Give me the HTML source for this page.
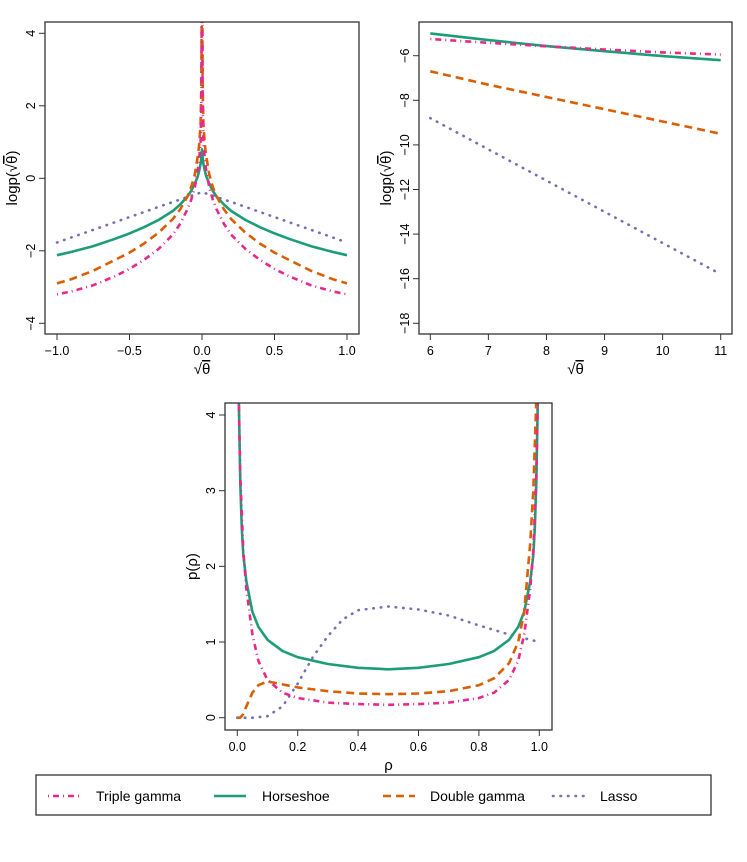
<!DOCTYPE html>
<html><head><meta charset="utf-8"><style>
html,body{margin:0;padding:0;background:#fff;}
svg{display:block;font-family:"Liberation Sans",sans-serif;}
</style></head><body>
<svg id="s" width="747" height="862" viewBox="0 0 747 862" xmlns="http://www.w3.org/2000/svg"></svg>
<script>
// ---- Panel A data (log density near zero; right half, mirrored for symmetric prior) ----
const aX = [0,0.002,0.005,0.01,0.02,0.03,0.05,0.075,0.1,0.15,0.2,0.3,0.4,0.5,0.6,0.75,0.9,1];
const aTriple = [4.6,4.5,2.0,1.0,0.5,0.2,-0.25,-0.6,-0.85,-1.25,-1.55,-1.95,-2.25,-2.5,-2.7,-2.95,-3.12,-3.2];
const aHorse = [0.8,0.72,0.55,0.4,0.2,0.05,-0.15,-0.35,-0.5,-0.72,-0.9,-1.15,-1.35,-1.52,-1.67,-1.87,-2.03,-2.12];
const aDouble = [4.6,4.5,2.5,1.5,0.9,0.6,0.1,-0.25,-0.5,-0.85,-1.12,-1.5,-1.8,-2.05,-2.25,-2.55,-2.78,-2.9];
const aLassoX = [0,0.25,0.5,0.75,1];
const aLasso = [-0.38,-0.72,-1.07,-1.42,-1.77];
const aXTicks = [-1,-0.5,0,0.5,1], aXLabels = ["−1.0","−0.5","0.0","0.5","1.0"];
const aYTicks = [-4,-2,0,2,4], aYLabels = ["−4","−2","0","2","4"];
// ---- Panel B data (tails) ----
const bX = [6,7,8,9,10,11];
const bTriple = [-5.25,-5.42,-5.58,-5.72,-5.85,-5.95];
const bHorse = [-5.0,-5.3,-5.57,-5.8,-6.02,-6.2];
const bDouble = [-6.7,-7.3,-7.85,-8.4,-8.95,-9.5];
const bLasso = [-8.8,-10.2,-11.6,-13.0,-14.4,-15.8];
const bXTicks = [6,7,8,9,10,11], bXLabels = ["6","7","8","9","10","11"];
const bYTicks = [-18,-16,-14,-12,-10,-8,-6], bYLabels = ["−18","−16","−14","−12","−10","−8","−6"];
// ---- Panel C data (shrinkage profile) ----
const cTX = [0.005,0.01,0.02,0.03,0.05,0.07,0.1,0.15,0.2,0.3,0.4,0.5,0.6,0.7,0.8,0.85,0.9,0.93,0.95,0.97,0.98,0.99,0.995];
const cTriple = [4.2,3.2,2.2,1.7,1.1,0.75,0.5,0.33,0.26,0.2,0.18,0.17,0.18,0.2,0.26,0.33,0.5,0.75,1.1,1.7,2.2,3.2,4.2];
const cHX = [0.005,0.01,0.015,0.02,0.03,0.05,0.07,0.1,0.15,0.2,0.3,0.4,0.5,0.6,0.7,0.8,0.85,0.9,0.93,0.95,0.97,0.98,0.985,0.99,0.995];
const cHorse = [4.2,3.1,2.5,2.15,1.8,1.4,1.2,1.03,0.88,0.8,0.71,0.66,0.64,0.66,0.71,0.8,0.88,1.03,1.2,1.4,1.8,2.15,2.5,3.1,4.2];
const cDX = [0,0.01,0.02,0.03,0.05,0.07,0.1,0.15,0.2,0.3,0.4,0.5,0.6,0.7,0.8,0.85,0.9,0.93,0.95,0.97,0.98,0.99];
const cDouble = [0,0,0.05,0.15,0.33,0.43,0.48,0.44,0.4,0.35,0.32,0.31,0.32,0.35,0.43,0.52,0.72,1.0,1.4,2.3,3.0,4.2];
const cLX = [0,0.05,0.1,0.15,0.2,0.25,0.3,0.35,0.4,0.5,0.6,0.7,0.8,0.9,1.0];
const cLasso = [0,0,0.02,0.15,0.45,0.8,1.08,1.3,1.42,1.47,1.43,1.35,1.22,1.1,1.0];
const cXTicks = [0,0.2,0.4,0.6,0.8,1], cXLabels = ["0.0","0.2","0.4","0.6","0.8","1.0"];
const cYTicks = [0,1,2,3,4], cYLabels = ["0","1","2","3","4"];

function mirror(xs,ys){const X=[],Y=[];for(let i=xs.length-1;i>0;i--){X.push(-xs[i]);Y.push(ys[i]);}for(let i=0;i<xs.length;i++){X.push(xs[i]);Y.push(ys[i]);}return {x:X,y:Y};}
const NS="http://www.w3.org/2000/svg", S=document.getElementById('s');
const COL={t:"#E7298A",h:"#1B9E77",d:"#D95F02",l:"#7570B3"};
const DASH={t:"1 4 6 4",h:"",d:"8 5",l:"0.5 7"};
function mk(tag,at,par){const e=document.createElementNS(NS,tag);for(const k in at)e.setAttribute(k,at[k]);(par||S).appendChild(e);return e;}
function panel(name,box,xd,yd,xT,xL,yT,yL,xt,yt,series){
  const g=mk('g',{});
  
  
  const sx=v=>xd.p0+(v-xd.v0)*(xd.p1-xd.p0)/(xd.v1-xd.v0);
  const sy=v=>yd.p0+(v-yd.v0)*(yd.p1-yd.p0)/(yd.v1-yd.v0);
  const cid='c'+name;
  const cp=mk('clipPath',{id:cid},g);mk('rect',{x:box.x0,y:box.y0,width:box.x1-box.x0,height:box.y1-box.y0},cp);
  series.forEach(s=>{
    const d=s.x.map((v,i)=>(i?'L':'M')+sx(v).toFixed(1)+' '+sy(s.y[i]).toFixed(1)).join(' ');
    const p=mk('path',{d:d,fill:'none',stroke:COL[s.k],'stroke-width':2.6,'stroke-dasharray':DASH[s.k],'stroke-linecap':s.k=='l'?'round':'butt','stroke-linejoin':'round','clip-path':'url(#'+cid+')'},g);
    
    
  });
  const r=mk('rect',{x:box.x0,y:box.y0,width:box.x1-box.x0,height:box.y1-box.y0,fill:'none',stroke:'#333','stroke-width':1.3},g);
  
  
  const xa=mk('g',{},g);
  
  
  mk('line',{x1:sx(xT[0]),x2:sx(xT[xT.length-1]),y1:box.y1,y2:box.y1,stroke:'#333'},xa);
  xT.forEach((v,i)=>{mk('line',{x1:sx(v),x2:sx(v),y1:box.y1,y2:box.y1+6,stroke:'#333'},xa);
    const t=mk('text',{x:sx(v),y:box.y1+21,'text-anchor':'middle','font-size':12.5},xa);t.textContent=xL[i];});
  const ya=mk('g',{},g);
  
  
  yT.forEach((v,i)=>{mk('line',{x1:box.x0,x2:box.x0-6,y1:sy(v),y2:sy(v),stroke:'#333'},ya);
    const t=mk('text',{x:box.x0-10,y:sy(v),'text-anchor':'middle','font-size':12.5,transform:'rotate(-90 '+(box.x0-10)+' '+sy(v)+')'},ya);t.textContent=yL[i];});
  const tx=mk('text',{x:(box.x0+box.x1)/2,y:box.y1+40,'text-anchor':'middle','font-size':15},g);tx.innerHTML=xt;
  
  
  const yy=(box.y0+box.y1)/2, xx=box.x0-28;
  const ty=mk('text',{x:xx,y:yy,'text-anchor':'middle','font-size':15,transform:'rotate(-90 '+xx+' '+yy+')'},g);ty.innerHTML=yt;
  
  
}
const sq='√<tspan text-decoration="overline">θ</tspan>';
const mL=mirror(aLassoX,aLasso), mH=mirror(aX,aHorse), mD=mirror(aX,aDouble), mT=mirror(aX,aTriple);
panel('panel-log-density-center',{x0:45,x1:359,y0:22,y1:334},{v0:-1,v1:1,p0:57,p1:347},{v0:0,v1:4,p0:178.3,p1:33.3},
  aXTicks,aXLabels,aYTicks,aYLabels,sq,'logp('+sq+')',
  [{k:'l',n:'lasso-line',x:mL.x,y:mL.y},{k:'h',n:'horseshoe-line',x:mH.x,y:mH.y},{k:'d',n:'double-gamma-line',x:mD.x,y:mD.y},{k:'t',n:'triple-gamma-line',x:mT.x,y:mT.y}]);
panel('panel-log-density-tail',{x0:419,x1:732,y0:22,y1:334},{v0:6,v1:11,p0:430.3,p1:720.7},{v0:-6,v1:-18,p0:55.7,p1:323.3},
  bXTicks,bXLabels,bYTicks,bYLabels,sq,'logp('+sq+')',
  [{k:'l',n:'lasso-line',x:bX,y:bLasso},{k:'d',n:'double-gamma-line',x:bX,y:bDouble},{k:'h',n:'horseshoe-line',x:bX,y:bHorse},{k:'t',n:'triple-gamma-line',x:bX,y:bTriple}]);
panel('panel-shrinkage-profile',{x0:225,x1:552,y0:403,y1:730},{v0:0,v1:1,p0:237.3,p1:539.3},{v0:0,v1:4,p0:717.7,p1:415},
  cXTicks,cXLabels,cYTicks,cYLabels,'ρ','p(ρ)',
  [{k:'l',n:'lasso-line',x:cLX,y:cLasso},{k:'h',n:'horseshoe-line',x:cHX,y:cHorse},{k:'d',n:'double-gamma-line',x:cDX,y:cDouble},{k:'t',n:'triple-gamma-line',x:cTX,y:cTriple}]);
// legend
const lg=mk('g',{});


mk('rect',{x:36,y:775,width:675,height:40,fill:'none',stroke:'#222','stroke-width':1.2},lg);
const LEG=[['t','Triple gamma',48,96],['h','Horseshoe',214,262],['d','Double gamma',383,430],['l','Lasso',553,600]];
LEG.forEach(e=>{const it=mk('g',{},lg);
  
  
  mk('line',{x1:e[2],x2:e[2]+32,y1:796,y2:796,stroke:COL[e[0]],'stroke-width':2.6,'stroke-dasharray':DASH[e[0]],'stroke-linecap':e[0]=='l'?'round':'butt'},it);
  const t=mk('text',{x:e[3],y:801,'font-size':14},it);t.textContent=e[1];});
</script>
</body></html>
